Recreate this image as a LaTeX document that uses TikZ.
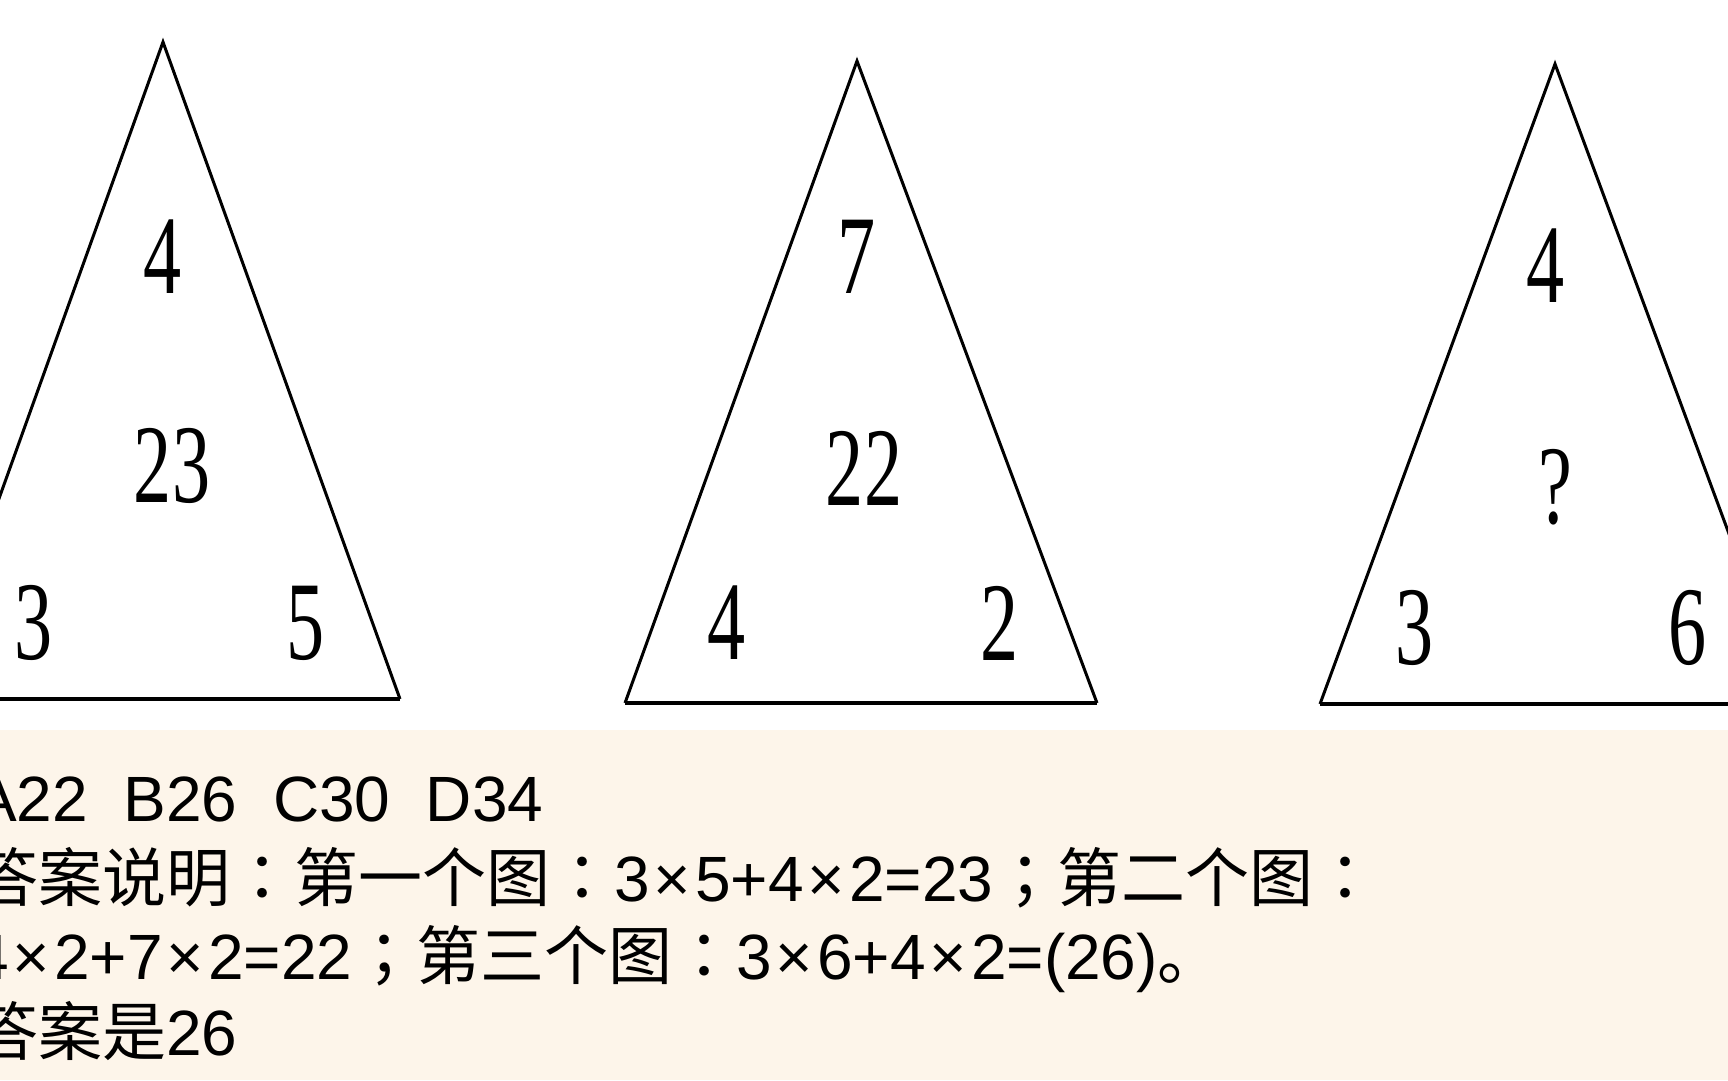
\documentclass[tikz,border=0pt]{standalone}
\usepackage{fontspec}
\usepackage{graphicx}
\setmainfont{Liberation Sans}
\newfontfamily\cjk{Noto Sans CJK SC}
\newfontfamily\cjkp{Noto Sans CJK TC}
\newfontfamily\trifont{Liberation Serif}
\newcommand\tmX{\kern4pt×\kern4pt}
\newcommand\tmC[1]{{\cjk #1}}
\newcommand\tmP[1]{{\cjkp #1}}
\definecolor{panel}{HTML}{FDF5EA}
\tikzset{
  tri/.style={draw=black, line width=3pt, line join=miter},
  triBase/.style={draw=black, line width=3.6pt},
  dig/.style={inner sep=0pt, anchor=center, font=\trifont\fontsize{112}{112}\selectfont},
  txt/.style={inner sep=0pt, anchor=base west, font=\fontsize{64}{64}\selectfont}
}
\begin{document}
\begin{tikzpicture}[x=1pt,y=-1pt]
\useasboundingbox (0,0) rectangle (1728,1080);
\clip (0,0) rectangle (1728,1080);
\fill[white] (0,0) rectangle (1728,1080);
\fill[panel] (0,730) rectangle (1728,1080);
% triangle 1
\coordinate (t1a) at (163,42);
\coordinate (t1l) at (-73,699);
\coordinate (t1r) at (400,699);
\draw[tri] (t1l) -- (t1a) -- (t1r);
\draw[triBase] (t1l) -- (t1r);
% triangle 2
\coordinate (t2a) at (857,61);
\coordinate (t2l) at (625,703);
\coordinate (t2r) at (1097,703);
\draw[tri] (t2l) -- (t2a) -- (t2r);
\draw[triBase] (t2l) -- (t2r);
% triangle 3
\coordinate (t3a) at (1555,64);
\coordinate (t3l) at (1320,704);
\coordinate (t3r) at (1792,704);
\draw[tri] (t3l) -- (t3a) -- (t3r);
\draw[triBase] (t3l) -- (t3r);
% numbers
\node[dig] (n1t) at (163,257) {\scalebox{0.68}[1]{4}};
\node[dig] (n1m) at (172,466) {\scalebox{0.68}[1]{23}};
\node[dig] (n1l) at (34,623) {\scalebox{0.68}[1]{3}};
\node[dig] (n1r) at (306,623) {\scalebox{0.68}[1]{5}};
\node[dig] (n2t) at (857,257) {\scalebox{0.68}[1]{7}};
\node[dig] (n2m) at (864,468) {\scalebox{0.68}[1]{22}};
\node[dig] (n2l) at (727,623) {\scalebox{0.68}[1]{4}};
\node[dig] (n2r) at (1000,623) {\scalebox{0.68}[1]{2}};
\node[dig] (n3t) at (1546,266) {\scalebox{0.68}[1]{4}};
\node[dig] (n3m) at (1555,487) {\scalebox{0.68}[1]{?}};
\node[dig] (n3l) at (1415,628) {\scalebox{0.68}[1]{3}};
\node[dig] (n3r) at (1688,628) {\scalebox{0.68}[1]{6}};
% text
\node[txt] (l1) at (-26,821) {A22\ \ B26\ \ C30\ \ D34};
\node[txt] (l2) at (-26,901) {\tmC{答案说明}\tmP{：}\tmC{第一个图}\tmP{：}3\tmX5+4\tmX2=23\tmP{；}\tmC{第二个图}\tmP{：}};
\node[txt] (l3) at (-27,979) {4\tmX2+7\tmX2=22\tmP{；}\tmC{第三个图}\tmP{：}3\tmX6+4\tmX2=(26)\tmC{。}};
\node[txt] (l4) at (-26,1055) {\tmC{答案是}26};
\end{tikzpicture}
\end{document}
